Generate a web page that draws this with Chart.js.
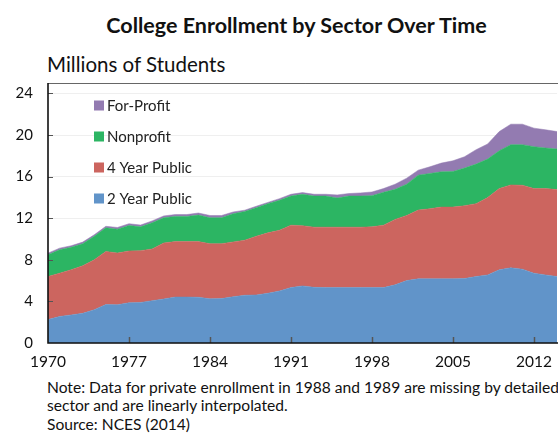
<!DOCTYPE html>
<html>
<head>
<meta charset="utf-8">
<script src="https://cdn.jsdelivr.net/npm/chart.js@4/dist/chart.umd.min.js"></script>
<style>
  html, body { margin: 0; padding: 0; background: #fff; }
  body { width: 558px; height: 437px; overflow: hidden; position: relative; font-family: Lato, "Noto Sans", sans-serif; color: #111; }
  #title { position: absolute; left: 0; top: 14.5px; width: 593px; text-align: center; font-weight: bold; font-size: 21.5px; line-height: 1; white-space: nowrap; }
  #units { position: absolute; left: 47px; top: 54px; font-size: 20.5px; line-height: 1; white-space: nowrap; }
  #wrap { position: absolute; left: 0; top: 0; width: 562px; height: 372px; }
  #note { position: absolute; left: 47px; top: 377.5px; font-size: 15.6px; line-height: 18.5px; white-space: nowrap; }
</style>
</head>
<body>
<div id="title">College Enrollment by Sector Over Time</div>
<div id="units">Millions of Students</div>
<div id="wrap"><canvas id="c"></canvas></div>
<div id="note">Note: Data for private enrollment in 1988 and 1989 are missing by detailed<br>sector and are linearly interpolated.<br>Source: NCES (2014)</div>
<script>
const years = [1970,1971,1972,1973,1974,1975,1976,1977,1978,1979,1980,1981,1982,1983,1984,1985,1986,1987,1988,1989,1990,1991,1992,1993,1994,1995,1996,1997,1998,1999,2000,2001,2002,2003,2004,2005,2006,2007,2008,2009,2010,2011,2012,2013,2014];
const twoYearPublic = [2.25,2.55,2.7,2.85,3.2,3.7,3.68,3.87,3.9,4.07,4.23,4.42,4.42,4.4,4.25,4.27,4.45,4.59,4.62,4.78,5.0,5.33,5.49,5.35,5.33,5.33,5.33,5.33,5.33,5.33,5.59,6.0,6.17,6.17,6.17,6.17,6.2,6.39,6.55,7.04,7.23,7.1,6.71,6.55,6.39];
const fourYearPublic = [4.14,4.16,4.34,4.57,4.8,5.11,4.97,4.98,4.98,4.97,5.39,5.33,5.33,5.35,5.3,5.28,5.27,5.29,5.64,5.81,5.84,6.0,5.79,5.79,5.81,5.81,5.81,5.81,5.84,6.0,6.29,6.26,6.61,6.74,6.9,6.9,7.0,7.01,7.43,7.81,7.97,8.07,8.14,8.3,8.36];
const nonprofit = [2.1,2.26,2.16,2.13,2.26,2.26,2.29,2.45,2.29,2.52,2.42,2.42,2.42,2.55,2.49,2.49,2.71,2.77,2.74,2.81,2.88,2.8,3.02,2.99,2.99,2.8,2.99,2.99,3.0,3.16,2.9,3.01,3.36,3.39,3.39,3.42,3.62,3.8,3.71,3.64,3.87,3.9,4.03,3.9,3.9];
const forProfit = [0.15,0.15,0.15,0.15,0.15,0.15,0.17,0.17,0.17,0.18,0.18,0.18,0.18,0.2,0.22,0.22,0.17,0.12,0.15,0.12,0.16,0.17,0.16,0.17,0.17,0.3,0.24,0.3,0.35,0.36,0.49,0.58,0.48,0.64,0.84,1.03,1.09,1.39,1.45,1.84,1.97,1.97,1.78,1.75,1.68];
const xTicks = [1970,1977,1984,1991,1998,2005,2012];
const yTicks = [0,4,8,12,16,20,24];

const seriesNames = ["2 Year Public","4 Year Public","Nonprofit","For-Profit"];
const seriesColors = ["#6194C9","#CC655F","#2CB563","#937BB1"];
const seriesValues = [twoYearPublic, fourYearPublic, nonprofit, forProfit];

const FONT = 'Lato, "Noto Sans", sans-serif';

const datasets = seriesValues.map((vals, i) => ({
  label: seriesNames[i],
  data: years.map((y, j) => ({x: y, y: vals[j]})),
  backgroundColor: seriesColors[i],
  borderColor: seriesColors[i],
  borderWidth: 0.5,
  pointRadius: 0,
  tension: 0,
  fill: i === 0 ? 'origin' : '-1'
}));

const frame = {
  id: 'frame',
  afterDatasetsDraw(chart) {
    const {ctx, chartArea: a, scales} = chart;
    ctx.save();
    ctx.strokeStyle = '#555';
    ctx.lineWidth = 1.5;
    xTicks.forEach(t => {
      if (t === xTicks[0]) return;
      const x = Math.round(scales.x.getPixelForValue(t)) + 0.5;
      ctx.beginPath(); ctx.moveTo(x, a.bottom); ctx.lineTo(x, a.bottom - 6); ctx.stroke();
    });
    ctx.lineWidth = 1;
    yTicks.forEach(t => {
      if (t === 0) return;
      const y = Math.round(scales.y.getPixelForValue(t)) + 0.5;
      ctx.beginPath(); ctx.moveTo(a.left, y); ctx.lineTo(a.left + 5, y); ctx.stroke();
    });
    ctx.strokeStyle = '#666';
    ctx.lineWidth = 1;
    ctx.beginPath(); ctx.moveTo(a.left, Math.round(a.top) + 0.5); ctx.lineTo(a.right + 5, Math.round(a.top) + 0.5); ctx.stroke();
    ctx.strokeStyle = '#111';
    ctx.lineWidth = 1.6;
    ctx.beginPath(); ctx.moveTo(a.left, a.top); ctx.lineTo(a.left, a.bottom); ctx.lineTo(a.right + 5, a.bottom); ctx.stroke();
    ctx.font = '15px ' + FONT;
    ctx.textBaseline = 'middle';
    ctx.textAlign = 'left';
    const n = chart.data.datasets.length;
    for (let k = 0; k < n; k++) {
      const ds = chart.data.datasets[n - 1 - k];
      const cy = a.top + 22.5 + k * 31;
      ctx.fillStyle = ds.backgroundColor;
      ctx.fillRect(a.left + 46, cy - 5, 10, 10);
      ctx.fillStyle = '#222';
      ctx.fillText(ds.label, a.left + 59, cy + 0.5);
    }
    ctx.restore();
  }
};

new Chart(document.getElementById('c'), {
  type: 'line',
  data: { datasets },
  options: {
    responsive: true,
    maintainAspectRatio: false,
    animation: false,
    layout: { padding: { top: 83, right: 1.6, left: 0, bottom: 0 } },
    plugins: { legend: { display: false }, tooltip: { enabled: false } },
    scales: {
      x: {
        type: 'linear',
        min: 1970, max: 2014,
        afterBuildTicks: s => { s.ticks = xTicks.map(v => ({value: v})); },
        afterFit: s => { s.height = 29; },
        grid: { display: false, drawTicks: false },
        border: { display: false },
        ticks: { padding: 10, color: '#111', font: { family: FONT, size: 15.5 }, callback: v => String(v), maxRotation: 0, autoSkip: false }
      },
      y: {
        stacked: true,
        min: 0, max: 25,
        afterBuildTicks: s => { s.ticks = yTicks.map(v => ({value: v})); },
        afterFit: s => { s.width = 48; },
        grid: { color: '#efefef', lineWidth: 1, drawTicks: false },
        border: { display: false },
        ticks: { padding: 15, color: '#111', font: { family: FONT, size: 15 } }
      }
    }
  },
  plugins: [frame]
});
</script>
</body>
</html>
